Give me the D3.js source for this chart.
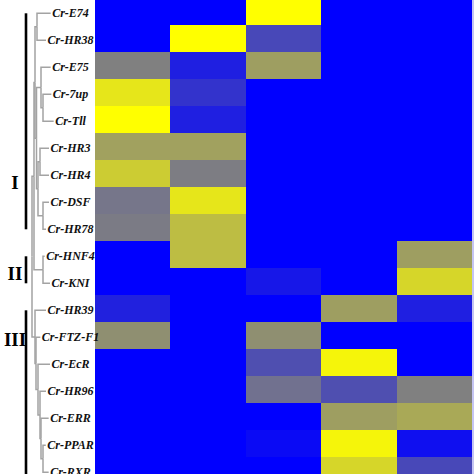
<!DOCTYPE html>
<html>
<head>
<meta charset="utf-8">
<script src="https://cdn.jsdelivr.net/npm/d3@7"></script>
<style>
  html, body { margin: 0; padding: 0; background: #ffffff; }
  svg { display: block; }
</style>
</head>
<body>
<svg id="chart" width="474" height="474"></svg>
<script>
// ---------------- DATA ----------------
const genes = ["Cr-E74","Cr-HR38","Cr-E75","Cr-7up","Cr-Tll","Cr-HR3","Cr-HR4","Cr-DSF","Cr-HR78",
               "Cr-HNF4","Cr-KNI","Cr-HR39","Cr-FTZ-F1","Cr-EcR","Cr-HR96","Cr-ERR","Cr-PPAR","Cr-RXR"];
const stages = ["S1","S2","S3","S4","S5"];
// relative expression (0 = low/blue, 0.5 = mid/gray, 1 = high/yellow)
const expr = [
  [0.00, 0.00, 1.00, 0.00, 0.00], // E74
  [0.00, 1.00, 0.28, 0.00, 0.00], // HR38
  [0.50, 0.12, 0.62, 0.00, 0.00], // E75
  [0.90, 0.20, 0.00, 0.00, 0.00], // 7up
  [1.00, 0.12, 0.00, 0.00, 0.00], // Tll
  [0.63, 0.63, 0.00, 0.00, 0.00], // HR3
  [0.80, 0.49, 0.00, 0.00, 0.00], // HR4
  [0.46, 0.90, 0.00, 0.00, 0.00], // DSF
  [0.48, 0.74, 0.00, 0.00, 0.00], // HR78
  [0.00, 0.74, 0.00, 0.00, 0.62], // HNF4
  [0.00, 0.00, 0.09, 0.00, 0.84], // KNI
  [0.13, 0.00, 0.00, 0.62, 0.12], // HR39
  [0.56, 0.00, 0.56, 0.00, 0.00], // FTZ-F1
  [0.00, 0.00, 0.31, 0.96, 0.00], // EcR
  [0.00, 0.00, 0.44, 0.31, 0.50], // HR96
  [0.00, 0.00, 0.00, 0.62, 0.66], // ERR
  [0.00, 0.00, 0.04, 0.96, 0.06], // PPAR
  [0.00, 0.00, 0.00, 0.84, 0.28]  // RXR
];
// dendrogram (merge distances)
const tree = {d:20, children:[
  {d:18, children:[
    {d:17, children:[
      {d:15, children:[{name:"Cr-E74"},{name:"Cr-HR38"}]},
      {d:15.5, children:[
        {d:11, children:[{name:"Cr-E75"},{d:9, children:[{name:"Cr-7up"},{name:"Cr-Tll"}]}]},
        {d:14, children:[
          {d:12, children:[{name:"Cr-HR3"},{name:"Cr-HR4"}]},
          {d:9, children:[{name:"Cr-DSF"},{name:"Cr-HR78"}]}
        ]}
      ]}
    ]},
    {d:9, children:[{name:"Cr-HNF4"},{name:"Cr-KNI"}]}
  ]},
  {d:17, children:[
    {name:"Cr-HR39"},
    {d:16, children:[
      {name:"Cr-FTZ-F1"},
      {d:14, children:[
        {name:"Cr-EcR"},
        {d:12, children:[
          {name:"Cr-HR96"},
          {d:11, children:[
            {name:"Cr-ERR"},
            {d:9, children:[{name:"Cr-PPAR"},{name:"Cr-RXR"}]}
          ]}
        ]}
      ]}
    ]}
  ]}
]};
const groupNames = ["I","II","III"];
const groupFirst = ["Cr-E74","Cr-HNF4","Cr-HR39"];
const groupLast  = ["Cr-HR78","Cr-KNI","Cr-RXR"];
const groupLabelAt = ["Cr-HR4","Cr-HNF4","Cr-FTZ-F1"];

// ---------------- DRAW ----------------
const svg = d3.select("#chart");
const rowH = 27;
const y = d3.scaleBand().domain(genes).range([-1.7, -1.7 + rowH * genes.length]).padding(0);
const x = d3.scaleBand().domain(stages).range([95, 472]).padding(0);
const color = d3.scaleLinear().domain([0, 0.5, 1]).range(["#0000ff", "#808080", "#ffff00"]).clamp(true);

const cells = [];
expr.forEach((row, i) => row.forEach((v, j) => cells.push({gene: genes[i], stage: stages[j], v})));

svg.append("g").selectAll("rect").data(cells).join("rect")
  .attr("x", d => x(d.stage))
  .attr("y", d => y(d.gene))
  .attr("width", x.bandwidth() + 0.5)
  .attr("height", y.bandwidth() + 0.5)
  .attr("fill", d => color(d.v))
  .attr("shape-rendering", "crispEdges");

// right edge halo
svg.append("rect").attr("x", x.range()[1]).attr("y", 0).attr("width", 2).attr("height", 474).attr("fill", "#c4c4f2");

// labels
const labelY = g => y(g) + y.bandwidth() / 2 + 1.5;
const labelX = 70.5;
const labels = svg.append("g").selectAll("text").data(genes).join("text")
  .attr("x", labelX)
  .attr("y", d => labelY(d))
  .attr("text-anchor", "middle")
  .attr("dominant-baseline", "central")
  .attr("font-family", "'Liberation Serif', 'Times New Roman', serif")
  .attr("font-weight", "bold")
  .attr("font-style", "italic")
  .attr("font-size", "12px")
  .attr("fill", "#111")
  .text(d => d);

const leftEdge = {};
labels.each(function(d) { leftEdge[d] = labelX - this.getComputedTextLength() / 2 - 1.5; });

// dendrogram
const dx = d3.scaleLinear().domain([0, 20]).range([52, 32]);
const root = d3.hierarchy(tree);
root.eachAfter(n => {
  if (!n.children) { n.py = labelY(n.data.name); n.px = leftEdge[n.data.name]; }
  else {
    n.py = (n.children[0].py + n.children[n.children.length - 1].py) / 2;
    n.px = dx(n.data.d);
  }
});
const dendro = svg.append("g").attr("fill", "none").attr("stroke", "#a3a3a3").attr("stroke-width", 1.5);
root.links().forEach(l => {
  dendro.append("path")
    .attr("d", `M${l.source.px},${l.source.py}V${l.target.py}H${l.target.px}`);
});

// group bars
const gb = svg.append("g");
groupNames.forEach((g, i) => {
  const y0 = labelY(groupFirst[i]);
  const y1 = labelY(groupLast[i]);
  gb.append("line").attr("x1", 26).attr("x2", 26).attr("y1", y0).attr("y2", i === 2 ? 474 : y1)
    .attr("stroke", "#000").attr("stroke-width", 2.6);
});
const labelOffsets = [7, 17.5, 1.7];
groupNames.forEach((g, i) => {
  gb.append("text")
    .attr("x", 15)
    .attr("y", labelY(groupLabelAt[i]) + labelOffsets[i])
    .attr("text-anchor", "middle")
    .attr("dominant-baseline", "central")
    .attr("font-family", "'Liberation Serif', 'Times New Roman', serif")
    .attr("font-weight", "bold")
    .attr("font-size", "19px")
    .attr("fill", "#000")
    .text(g);
});
</script>
</body>
</html>
